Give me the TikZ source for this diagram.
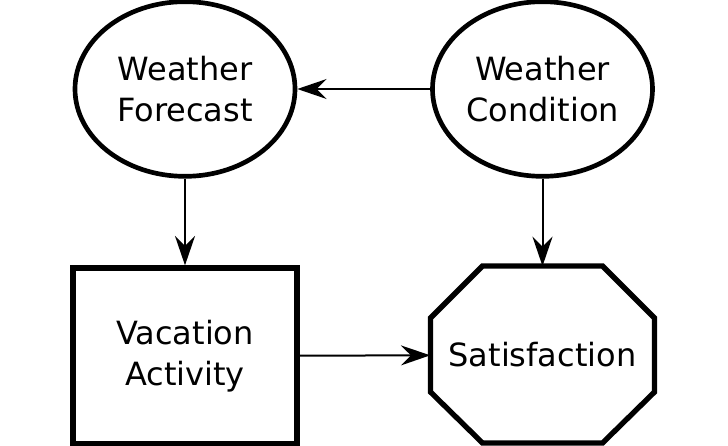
\documentclass[tikz,border=0pt]{standalone}
\usepackage{fontspec}
\setmainfont{DejaVu Sans}
\usetikzlibrary{arrows.meta,shapes.geometric}
\newcommand{\octpath}[2]{\draw[line width=4pt] ({#1-112},{#2-37}) -- ({#1-60},{#2-89}) -- ({#1+60},{#2-89}) -- ({#1+112},{#2-37})
  -- ({#1+112},{#2+37}) -- ({#1+60},{#2+88}) -- ({#1-60},{#2+88}) -- ({#1-112},{#2+37}) -- cycle;}

\begin{document}
\begin{tikzpicture}[x=0.75pt,y=-0.75pt,
    ell/.style={ellipse,draw,line width=3.5pt,minimum width=165pt,minimum height=131pt,inner sep=0pt,align=center},
    rbox/.style={rectangle,draw,line width=4pt,minimum width=168pt,minimum height=132pt,inner sep=0pt,align=center},
    conn/.style={line width=1.5pt,-{Stealth[length=22pt,width=15pt,inset=7.5pt]}},
    font=\fontsize{24}{30.5}\selectfont]
      \useasboundingbox[fill=white] (0,0) rectangle (728,446);
      \node[ell] (forecast) at (185,89) {Weather\\Forecast};
      \node[ell] (condition) at (542.5,89) {Weather\\Condition};
      \node[rbox] (activity) at (185,356) {Vacation\\Activity};
      \node[minimum width=168pt,minimum height=133pt,inner sep=0pt] (satisf) at (542.5,355) {Satisfaction};
      \octpath{542.5}{355}
      \draw[conn] (condition) -- (forecast);
      \draw[conn] (forecast) -- (activity);
      \draw[conn] (condition) -- (satisf);
      \draw[conn] (activity) -- (satisf);
    \end{tikzpicture}
\end{document}
